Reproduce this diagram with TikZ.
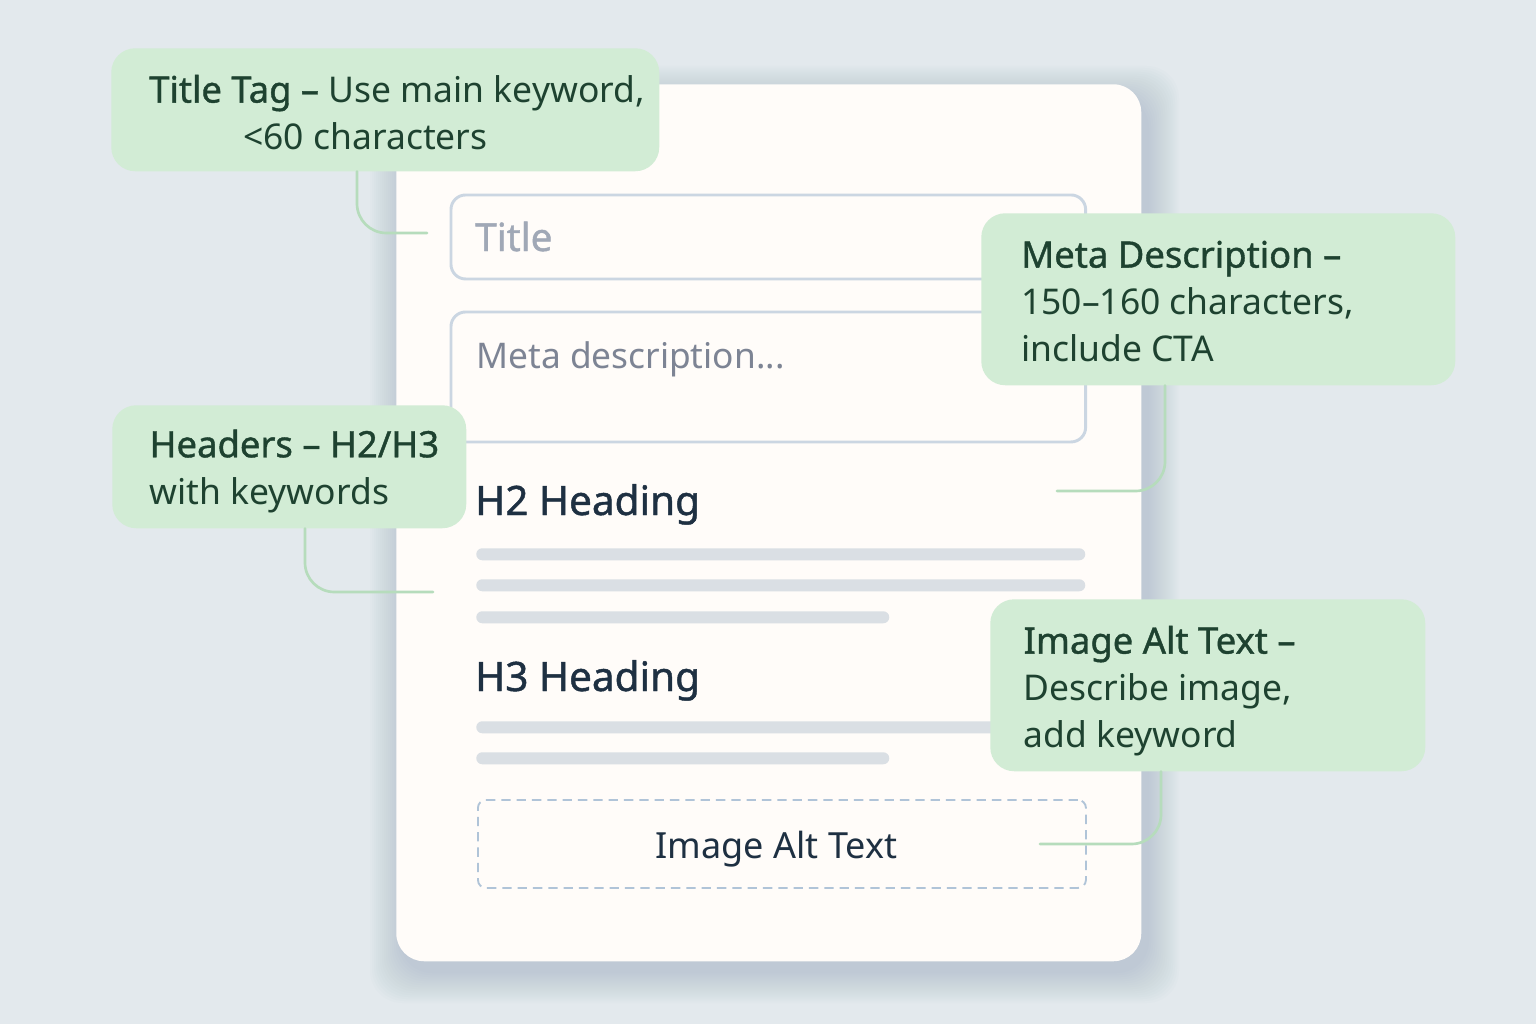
\documentclass[tikz,border=0pt]{standalone}
\usepackage{fontspec}
\setmainfont{Noto Sans}[BoldFont=Noto Sans, BoldFeatures={FakeBold=1.1}]
\usetikzlibrary{positioning}
\definecolor{pagebg}{RGB}{227,233,237}
\definecolor{cardfill}{RGB}{255,252,249}
\definecolor{cardshadow}{RGB}{130,155,180}
\definecolor{calloutgreen}{RGB}{210,236,213}
\definecolor{leadergreen}{RGB}{182,220,188}
\definecolor{calloutink}{RGB}{30,66,48}
\definecolor{fieldline}{RGB}{203,214,226}
\definecolor{barfill}{RGB}{218,223,228}
\definecolor{headink}{RGB}{30,48,66}
\definecolor{dashline}{RGB}{176,196,216}
\definecolor{titlehintink}{RGB}{160,168,182}
\definecolor{metahintink}{RGB}{125,132,148}
\newcommand{\keyterm}[1]{{\fontsize{27.3}{35.25}\selectfont\textbf{#1}}}

\begin{document}
\begin{tikzpicture}[x=0.75pt, y=-0.75pt,
    callout/.style={rectangle, fill=calloutgreen, rounded corners=18pt, anchor=north west, align=flush left, inner sep=0pt, text=calloutink, font=\fontsize{26.6}{35.25}\selectfont, execute at begin node={\rule{0pt}{#1}}, execute at end node={\rule[-8pt]{0pt}{8pt}}},
    callout/.default=31pt,
    field/.style={rectangle, draw=fieldline, line width=2.2pt, fill=cardfill, rounded corners=11pt, anchor=north west, inner sep=0pt},
    textbar/.style={rectangle, fill=barfill, rounded corners=4.5pt, anchor=north west, inner sep=0pt, minimum height=9pt},
    heading/.style={anchor=base west, inner sep=0pt, text=headink, font=\fontsize{30.4}{36}\selectfont\bfseries},
    hint/.style={anchor=base west, inner sep=0pt, font=\fontsize{26.5}{32}\selectfont},
    leader/.style={draw=leadergreen, line width=2pt, rounded corners=22pt, line cap=round}]

    \useasboundingbox (0,0) rectangle (1536,1024);
    \fill[pagebg] (0,0) rectangle (1536,1024);

    % soft shadow of the card
    \foreach \s in {1,...,16}
        \fill[cardshadow, opacity=0.025, rounded corners=24pt] (396+6-2*\s,84+14-2*\s) rectangle (1141+6+2*\s,961+10+2*\s);

    \node[rectangle, fill=cardfill, rounded corners=21pt, anchor=north west, inner sep=0pt, minimum width=558.75pt, minimum height=657.75pt] (card) at (396,84) {};

    % form fields
    \node[field, minimum width=476pt, minimum height=63pt] (titlefield) at (449.5,193.5) {};
    \node[hint, text=titlehintink, font=\fontsize{29}{32}\selectfont] (titlehint) at (475,251) {\textbf{Title}};
    \node[field, minimum width=476pt, minimum height=97.5pt] (metafield) at (449.5,310.5) {};
    \node[hint, text=metahintink] (metahint) at (476,368) {Meta description...};

    % page body
    \node[heading] (htwo) at (475,515) {H2 Heading};
    \node[textbar, minimum width=456.75pt] (bara) at (476,548) {};
    \node[textbar, minimum width=456.75pt] (barb) at (476,579) {};
    \node[textbar, minimum width=309.75pt] (barc) at (476,611) {};
    \node[heading] (hthree) at (475,691) {H3 Heading};
    \node[textbar, minimum width=456.75pt] (bard) at (476,721) {};
    \node[textbar, minimum width=309.75pt] (bare) at (476,752) {};

    \node[rectangle, draw=dashline, line width=1.4pt, dash pattern=on 7pt off 4.5pt, rounded corners=6pt, anchor=north west, inner sep=0pt, minimum width=456pt, minimum height=66pt, text=headink, font=\fontsize{27}{32}\selectfont] (imagebox) at (477,799) {\hspace*{-8pt}\raisebox{-11.25pt}[0pt][0pt]{Image Alt Text}};

    % callouts
    \node[callout=32.5pt, minimum width=411pt, minimum height=92.25pt, text width=411pt] (titletag) at (111,48)
        {\hspace*{28.5pt}\keyterm{Title Tag --} Use main keyword,\\\hspace*{99pt}<60 characters};
    \node[callout, minimum width=355.5pt, minimum height=129pt, text width=355.5pt] (metatag) at (981,213)
        {\hspace*{30pt}\keyterm{Meta Description --}\\\hspace*{30pt}150--160 characters,\\\hspace*{30pt}include CTA};
    \node[callout=29pt, minimum width=265.5pt, minimum height=92.25pt, text width=265.5pt] (headtag) at (112,405)
        {\hspace*{28pt}\keyterm{Headers -- H2/H3}\\\hspace*{28pt}with keywords};
    \node[callout, minimum width=326.25pt, minimum height=129pt, text width=326.25pt] (imagetag) at (990,599)
        {\hspace*{25pt}\keyterm{Image Alt Text --}\\\hspace*{25pt}Describe image,\\\hspace*{25pt}add keyword};

    % leaders
    \coordinate (titlebend) at (357,233);
    \coordinate (titleend) at (427,233);
    \coordinate (metabend) at (1165,491);
    \coordinate (metaend) at (1057,491);
    \coordinate (headbend) at (305,592);
    \coordinate (headend) at (433,592);
    \coordinate (imagebend) at (1161,844);
    \coordinate (imageend) at (1040,844);

    \draw[leader] (titletag.south -| titlebend) -- (titlebend) -- (titleend);
    \draw[leader] (metatag.south -| metabend) -- (metabend) -- (metaend);
    \draw[leader] (headtag.south -| headbend) -- (headbend) -- (headend);
    \draw[leader] (imagetag.south -| imagebend) -- (imagebend) -- (imageend);
\end{tikzpicture}
\end{document}
